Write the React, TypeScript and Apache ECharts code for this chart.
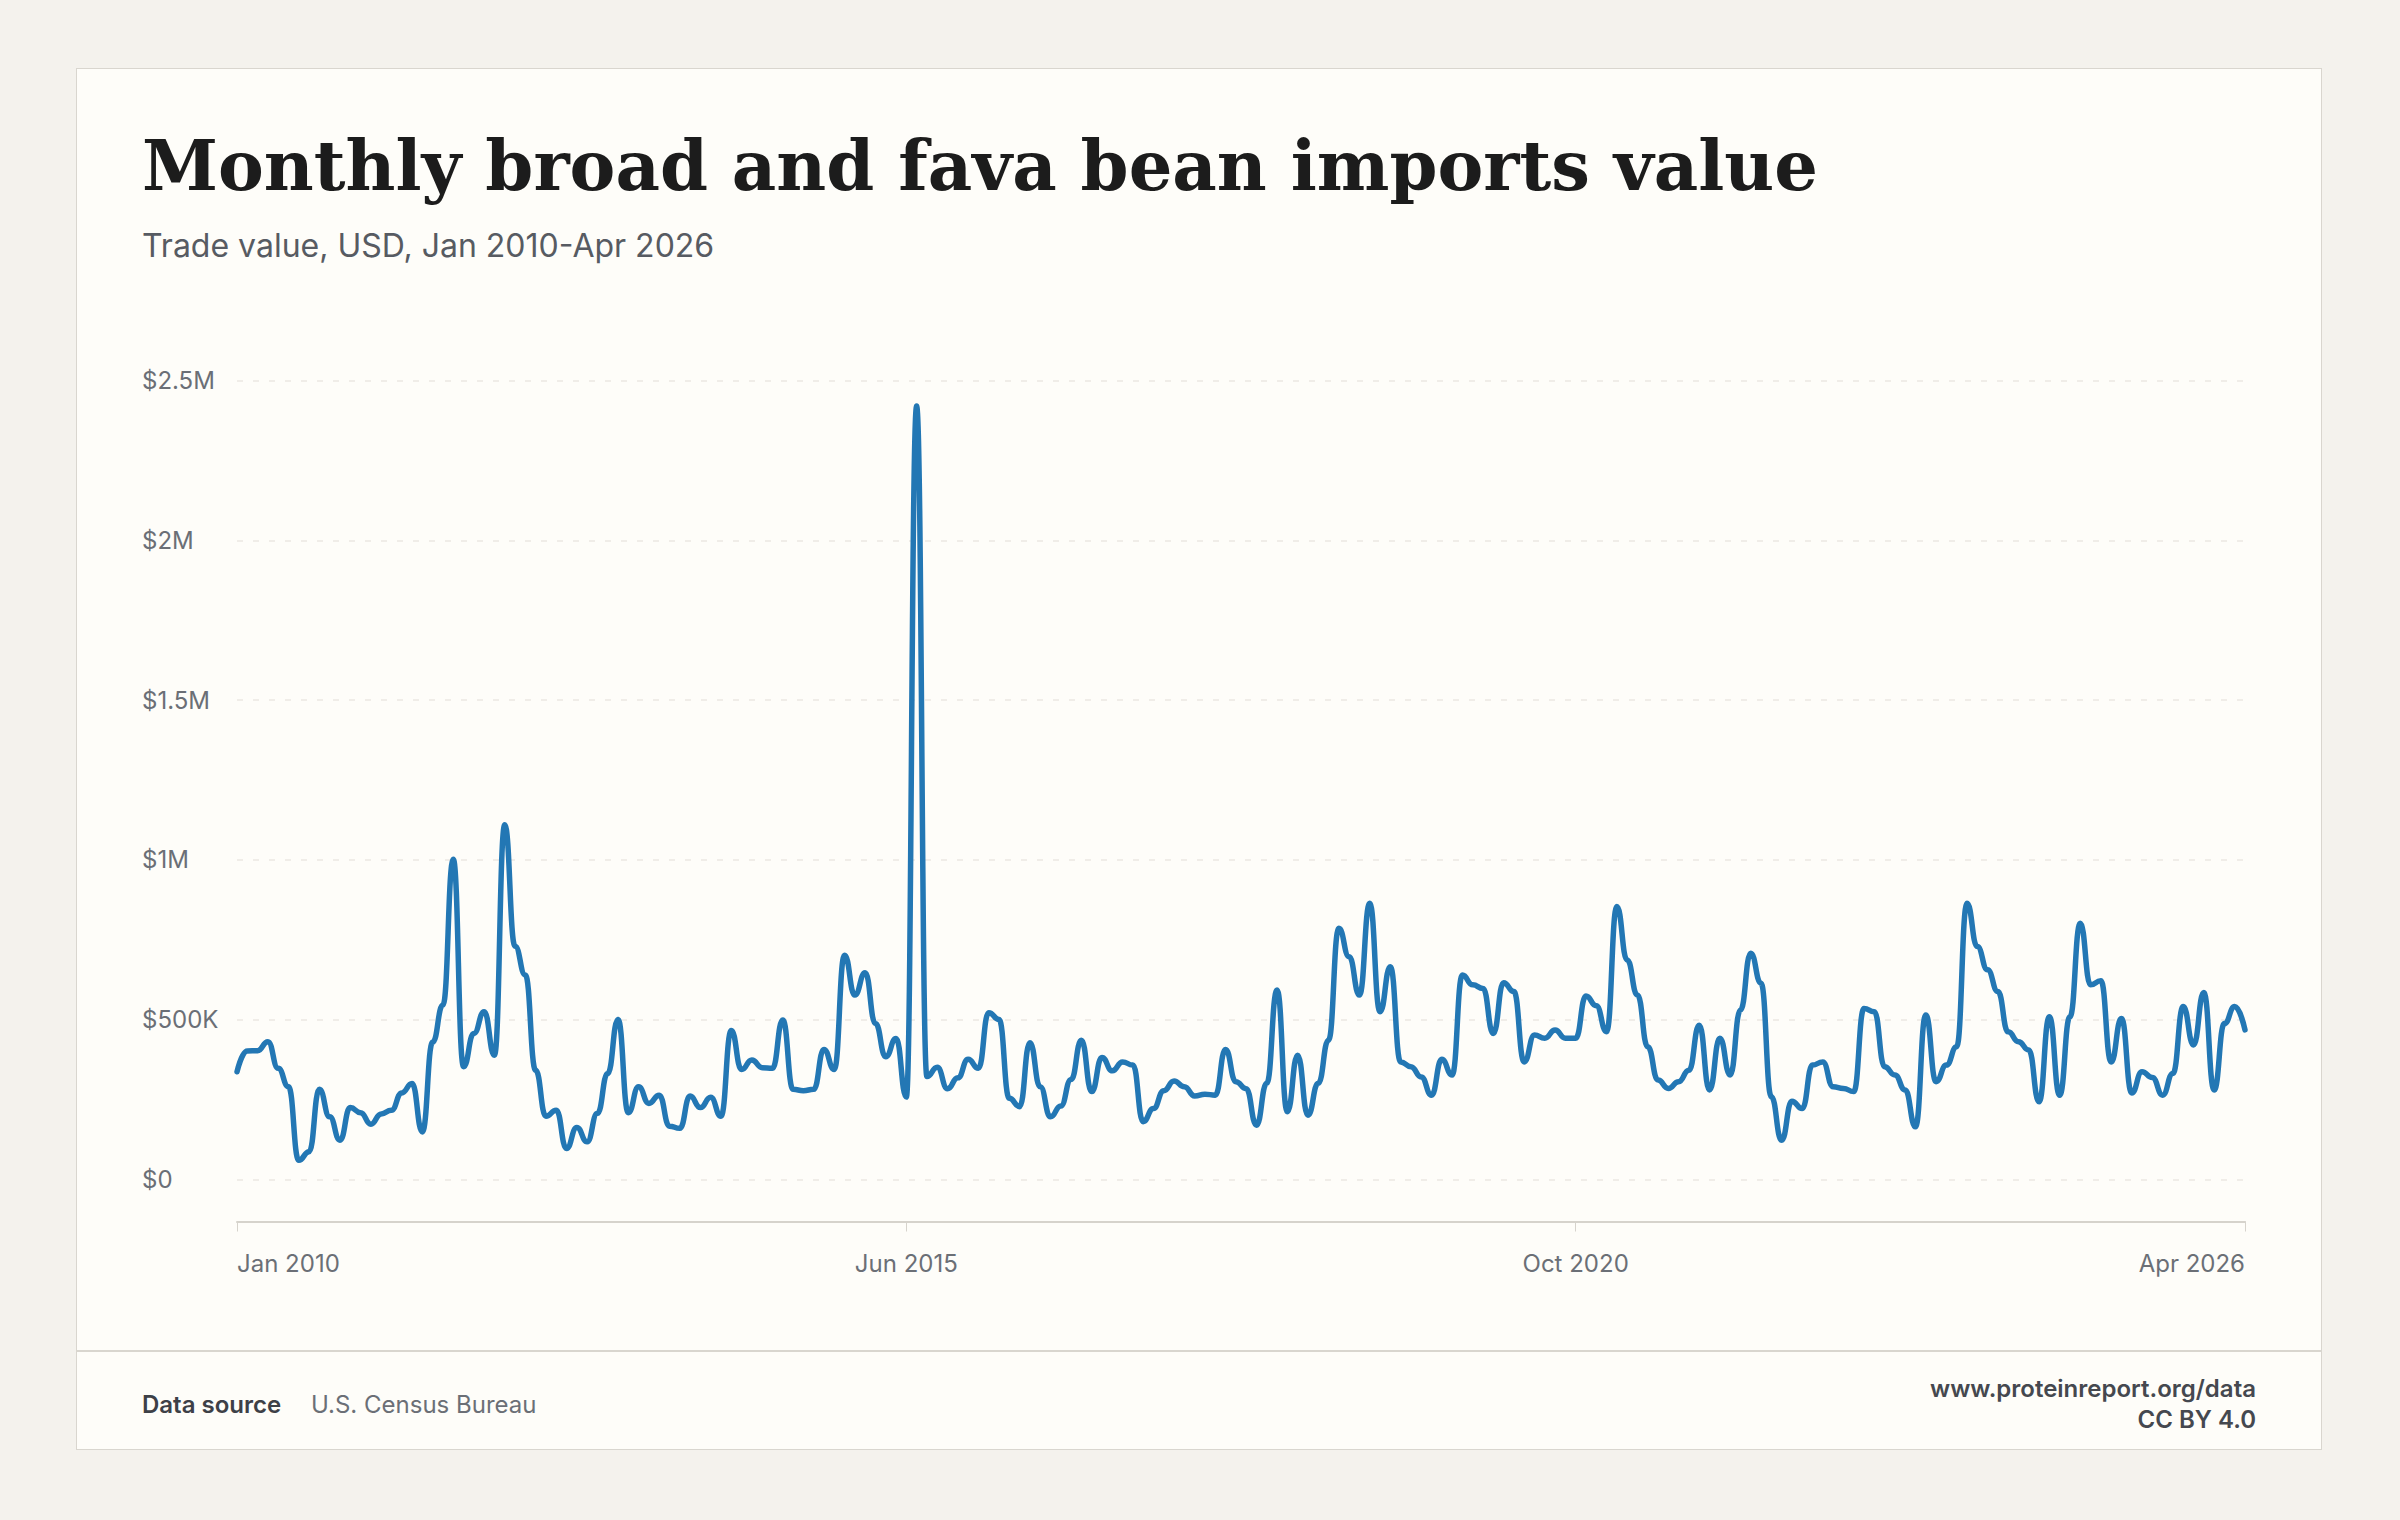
import React, { useEffect, useRef } from "react";
import * as echarts from "echarts";

// Monthly broad and fava bean import values, thousands of USD
const y2010 = [337, 402, 403, 431, 348, 290, 60, 87, 282, 196, 123, 225];
const y2011 = [209, 173, 205, 217, 271, 300, 149, 430, 546, 1002, 353, 457];
const y2012 = [525, 389, 1110, 730, 640, 342, 198, 217, 97, 163, 118, 207];
const y2013 = [332, 501, 209, 290, 238, 264, 167, 160, 261, 225, 257, 198];
const y2014 = [466, 344, 374, 350, 348, 499, 282, 278, 282, 407, 344, 702];
const y2015 = [577, 647, 488, 384, 441, 258, 2420, 322, 351, 284, 318, 376];
const y2016 = [348, 522, 501, 254, 228, 428, 290, 196, 230, 313, 436, 275];
const y2017 = [382, 340, 368, 358, 181, 222, 278, 308, 290, 261, 267, 264];
const y2018 = [407, 306, 284, 170, 301, 593, 212, 389, 201, 301, 436, 786];
const y2019 = [697, 577, 864, 525, 666, 368, 353, 321, 264, 376, 327, 640];
const y2020 = [609, 598, 457, 616, 588, 368, 452, 442, 468, 442, 442, 574];
const y2021 = [544, 462, 854, 687, 577, 415, 311, 285, 306, 342, 483, 280];
const y2022 = [442, 327, 530, 708, 614, 259, 123, 245, 222, 358, 368, 290];
const y2023 = [285, 275, 535, 525, 353, 327, 280, 165, 515, 306, 358, 415];
const y2024 = [864, 729, 656, 588, 462, 431, 405, 243, 509, 264, 509, 802];
const y2025 = [609, 622, 368, 504, 271, 337, 319, 264, 332, 541, 421, 585];
const y2026 = [280, 488, 541, 468];

const yearlyValues = [
  y2010, y2011, y2012, y2013, y2014, y2015, y2016, y2017, y2018,
  y2019, y2020, y2021, y2022, y2023, y2024, y2025, y2026,
];

const monthNames = ["Jan", "Feb", "Mar", "Apr", "May", "Jun", "Jul", "Aug", "Sep", "Oct", "Nov", "Dec"];
const firstYear = 2010;

// x-axis ticks: positions (month index) and their labels
const tickIndex = [0, 65, 130, 195];
const tickLabels = ["Jan 2010", "Jun 2015", "Oct 2020", "Apr 2026"];

// y-axis ticks
const yTicks = [0, 500000, 1000000, 1500000, 2000000, 2500000];
const yTickLabels = ["$0", "$500K", "$1M", "$1.5M", "$2M", "$2.5M"];

const categories: string[] = [];
const values: number[] = [];
yearlyValues.forEach((arr, yi) => {
  arr.forEach((v, mi) => {
    categories.push(`${monthNames[mi]} ${firstYear + yi}`);
    values.push(v * 1000);
  });
});

const SANS = "Inter, 'Noto Sans', sans-serif";
const SERIF = "'DejaVu Serif', serif";

export default function App() {
  const ref = useRef<HTMLDivElement>(null);

  useEffect(() => {
    if (!ref.current) return;
    const chart = echarts.init(ref.current, null, { renderer: "svg" });
    chart.setOption({
      animation: false,
      backgroundColor: "transparent",
      grid: { left: 237, right: 155, top: 380.5, bottom: 340.5, containLabel: false },
      xAxis: {
        type: "category",
        data: categories,
        boundaryGap: false,
        offset: 42,
        axisLine: { show: true, onZero: false, lineStyle: { color: "#d6d3cc", width: 2 } },
        axisTick: {
          show: true,
          length: 10,
          interval: (i: number) => tickIndex.includes(i),
          lineStyle: { color: "#d6d3cc", width: 1 },
        },
        axisLabel: {
          interval: (i: number) => tickIndex.includes(i),
          formatter: (_v: string, i: number) => {
            const k = tickIndex.indexOf(i);
            return k >= 0 ? tickLabels[k] : "";
          },
          margin: 30,
          color: "#6b6f76",
          fontSize: 24,
          fontFamily: SANS,
          alignMinLabel: "left",
          alignMaxLabel: "right",
        },
        splitLine: { show: false },
      },
      yAxis: {
        type: "value",
        min: 0,
        max: 2500000,
        interval: 500000,
        axisLine: { show: false },
        axisTick: { show: false },
        splitLine: {
          show: true,
          lineStyle: { color: "#ebe8e2", width: 1.5, type: [6, 10] },
        },
        axisLabel: {
          align: "left",
          margin: 95,
          color: "#6b6f76",
          fontSize: 24,
          fontFamily: SANS,
          formatter: (v: number) => {
            const k = yTicks.indexOf(v);
            return k >= 0 ? yTickLabels[k] : "";
          },
        },
      },
      series: [
        {
          type: "line",
          data: values,
          smooth: 0.5,
          smoothMonotone: "x",
          showSymbol: false,
          lineStyle: { color: "#2377b4", width: 5.5, cap: "round", join: "round" },
        },
      ],
      graphic: [
        {
          type: "text",
          x: 142,
          y: 166,
          style: {
            text: "Monthly broad and fava bean imports value",
            fill: "#1c1c1c",
            font: `bold 68.7px ${SERIF}`,
            textAlign: "left",
            textVerticalAlign: "middle",
          },
        },
        {
          type: "text",
          x: 142,
          y: 245,
          style: {
            text: "Trade value, USD, Jan 2010-Apr 2026",
            fill: "#575b62",
            font: `400 32px ${SANS}`,
            textAlign: "left",
            textVerticalAlign: "middle",
          },
        },
        {
          type: "text",
          x: 142,
          y: 1404,
          style: {
            text: "Data source",
            fill: "#3d4047",
            font: `600 24px ${SANS}`,
            textAlign: "left",
            textVerticalAlign: "middle",
          },
        },
        {
          type: "text",
          x: 311,
          y: 1404,
          style: {
            text: "U.S. Census Bureau",
            fill: "#6b6f76",
            font: `400 24px ${SANS}`,
            textAlign: "left",
            textVerticalAlign: "middle",
          },
        },
        {
          type: "text",
          x: 2256,
          y: 1388,
          style: {
            text: "www.proteinreport.org/data",
            fill: "#45484f",
            font: `600 24px ${SANS}`,
            textAlign: "right",
            textVerticalAlign: "middle",
          },
        },
        {
          type: "text",
          x: 2256,
          y: 1419,
          style: {
            text: "CC BY 4.0",
            fill: "#45484f",
            font: `600 24px ${SANS}`,
            textAlign: "right",
            textVerticalAlign: "middle",
          },
        },
      ],
    });
    return () => chart.dispose();
  }, []);

  return (
    <div style={{ position: "fixed", left: 0, top: 0, width: 2400, height: 1520, background: "#f4f2ed" }}>
      <div
        style={{
          position: "absolute",
          left: 76,
          top: 68,
          width: 2246,
          height: 1382,
          boxSizing: "border-box",
          background: "#fefdf9",
          border: "1.5px solid #d9d6cf",
        }}
      />
      <div
        style={{
          position: "absolute",
          left: 76,
          top: 1350,
          width: 2246,
          height: 1.5,
          background: "#d9d6cf",
        }}
      />
      <div ref={ref} style={{ position: "absolute", left: 0, top: 0, width: 2400, height: 1520 }} />
    </div>
  );
}
